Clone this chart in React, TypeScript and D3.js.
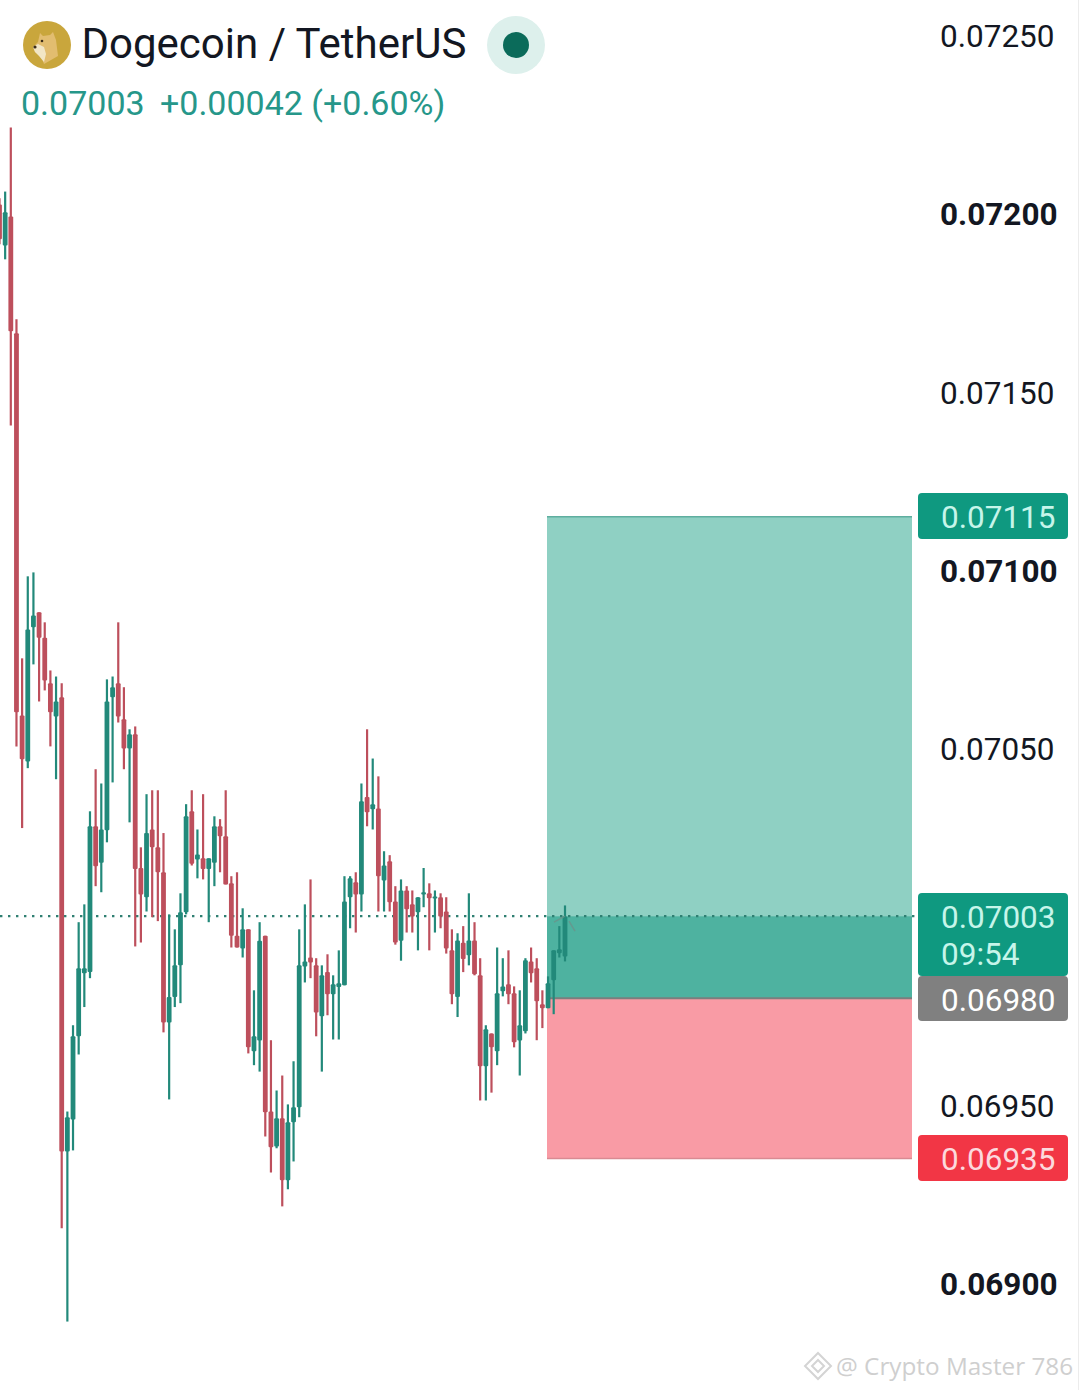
import React, { useEffect, useRef } from 'react';
import * as d3 from 'd3';

// prices are in 0.00001 USDT, so 7003 reads as 0.07003
const opens = [
  7202.6, 7191.1, 7199.2, 7166.5, 7059.3, 7046.4, 7084.0, 7088.2, 7081.1, 7068.3,
  7059.0, 7064.4, 6937.0, 6946.0, 6969.3, 6987.0, 6987.3, 7028.2, 7018.0, 7027.1,
  7064.4, 7068.3, 7058.2, 7050.0, 7054.0, 7016.5, 7008.3, 7027.3, 7022.3, 7015.3,
  6973.2, 6980.3, 6989.2, 7004.1, 7032.4, 7018.9, 7019.2, 7016.2, 7018.0, 7028.2,
  7025.4, 7012.2, 6997.5, 6993.9, 6999.3, 6965.1, 6968.1, 6997.5, 6948.2, 6938.4,
  6946.3, 6928.9, 6945.2, 6949.4, 6988.9, 6991.4, 6989.2, 6974.9, 6987.3, 6981.1,
  6983.1, 6983.6, 7008.3, 7012.5, 7009.1, 7036.4, 7033.0, 7033.2, 7013.0, 7018.4,
  7007.1, 6996.1, 7010.2, 7006.3, 7004.1, 7009.1, 7009.4, 7008.0, 7008.3, 7004.3,
  6993.4, 6980.3, 6995.5, 6992.0, 6996.2, 6986.4, 6960.9, 6970.1, 6965.1, 6981.9,
  6983.9, 6981.4, 6968.1, 6970.7, 6990.3, 6988.4, 6978.3, 6977.2, 6985.0, 6992.6,
  6991.7,
];
const highs = [
  7204.3, 7206.2, 7224.2, 7170.4, 7075.3, 7098.3, 7099.4, 7088.2, 7085.4, 7071.9,
  7070.2, 7068.3, 6948.2, 6972.4, 7001.3, 7006.3, 7032.4, 7044.2, 7040.2, 7069.4,
  7070.2, 7085.4, 7067.2, 7055.4, 7056.2, 7022.3, 7037.2, 7038.3, 7038.3, 7026.3,
  7003.5, 6999.3, 7009.4, 7034.4, 7038.3, 7027.3, 7037.2, 7019.2, 7031.0, 7030.2,
  7038.3, 7014.2, 7015.3, 7005.2, 6999.3, 6982.2, 7001.3, 6997.5, 6968.2, 6954.1,
  6958.3, 6950.2, 6962.3, 6999.3, 7006.3, 7013.3, 6991.2, 6989.2, 6992.3, 6986.4,
  6993.4, 7014.2, 7014.2, 7015.3, 7040.2, 7055.4, 7047.2, 7042.2, 7021.2, 7020.1,
  7011.4, 7013.3, 7011.4, 7010.2, 7008.3, 7016.5, 7012.2, 7010.2, 7009.4, 7008.3,
  6999.3, 6998.2, 7000.2, 7009.4, 7001.3, 6991.2, 6972.4, 6970.1, 6994.2, 6991.2,
  6993.4, 6983.3, 6982.2, 6991.2, 6994.2, 6991.2, 6982.2, 6986.1, 6993.4, 7000.2,
  7006.0,
];
const lows = [
  7191.4, 7187.2, 7140.6, 7050.6, 7027.7, 7044.5, 7073.6, 7063.2, 7066.3, 7050.6,
  7041.4, 6915.5, 6889.3, 6937.3, 6964.2, 6977.5, 6985.6, 7011.4, 7009.7, 7023.7,
  7040.5, 7057.3, 7044.2, 7029.3, 6994.5, 6995.6, 7004.3, 7002.7, 7001.6, 6970.4,
  6951.6, 6977.5, 6978.6, 7003.5, 7017.2, 7013.6, 7013.3, 7001.3, 7011.4, 7015.3,
  7011.9, 6994.2, 6994.2, 6991.4, 6964.5, 6961.2, 6959.4, 6941.2, 6931.1, 6937.9,
  6921.6, 6926.4, 6934.2, 6946.6, 6984.4, 6985.6, 6969.3, 6959.4, 6975.2, 6968.4,
  6968.4, 6983.6, 6999.6, 6998.4, 7004.3, 7028.2, 7027.3, 7004.3, 7004.3, 7004.3,
  6995.0, 6990.5, 6998.4, 6998.4, 6993.4, 7005.5, 6993.4, 6998.4, 6999.6, 6992.5,
  6978.3, 6974.7, 6987.3, 6989.2, 6986.4, 6951.3, 6951.3, 6953.5, 6961.2, 6980.5,
  6978.3, 6966.2, 6958.3, 6970.1, 6984.4, 6968.2, 6971.6, 6977.2, 6975.5, 6991.4,
  6990.3,
];
const closes = [
  7192.8, 7200.4, 7167.0, 7060.2, 7047.0, 7083.4, 7087.3, 7081.1, 7069.1, 7060.2,
  7063.2, 6937.0, 6946.6, 6969.3, 6988.4, 6988.4, 7028.2, 7017.0, 7027.3, 7063.2,
  7067.2, 7059.0, 7050.0, 7054.0, 7016.2, 7009.1, 7026.3, 7022.3, 7015.3, 6973.2,
  6980.3, 6989.2, 7004.1, 7031.0, 7017.7, 7020.3, 7016.2, 7019.2, 7028.2, 7025.4,
  7011.9, 6997.5, 6994.2, 6999.3, 6966.2, 6969.3, 6996.1, 6948.0, 6938.2, 6946.3,
  6928.9, 6945.2, 6949.4, 6989.2, 6990.3, 6990.0, 6976.0, 6986.4, 6981.1, 6983.9,
  6984.2, 7007.1, 7013.6, 7009.1, 7035.2, 7032.1, 7034.4, 7014.2, 7017.2, 7006.9,
  6995.6, 7010.2, 7004.9, 7002.9, 7008.3, 7009.7, 7008.0, 7008.5, 7002.9, 6993.9,
  6981.1, 6996.2, 6991.0, 6996.2, 6986.7, 6960.9, 6971.3, 6966.2, 6981.4, 6983.3,
  6981.1, 6967.6, 6972.4, 6990.6, 6987.0, 6979.1, 6977.2, 6984.2, 6993.4, 6993.7,
  7002.9,
];

const axisTicks = [7250, 7200, 7150, 7100, 7050, 6950, 6900];
const boldTicks = [7200, 7100, 6900];

const lastPrice = 7003;
const targetPrice = 7115;
const entryPrice = 6980;
const stopPrice = 6935;

const fmt = (v: number) => (v / 100000).toFixed(5);

const FONT = 'Roboto, sans-serif';
const UP = '#22897a';
const DOWN = '#bd4f5c';

const App: React.FC = () => {
  const ref = useRef<SVGSVGElement>(null);

  useEffect(() => {
    document.body.style.margin = '0';
    const svg = d3.select(ref.current);
    svg.selectAll('*').remove();

    const yScale = d3.scaleLinear().domain([7250, 6900]).range([35.4, 1283.4]);
    const xScale = d3.scaleLinear().domain([0, 100]).range([-0.5, 565]);
    const boxLeft = 547;
    const boxRight = 912;

    svg.append('rect').attr('width', 1080).attr('height', 1390).attr('fill', '#fff');
    svg.append('line').attr('x1', 1078.5).attr('x2', 1078.5).attr('y1', 0).attr('y2', 1390)
      .attr('stroke', '#ececec').attr('stroke-width', 1);

    // long position tool
    const zones = [
      { top: targetPrice, bottom: lastPrice, fill: '#8fd0c3' },
      { top: lastPrice, bottom: entryPrice, fill: '#4eb2a0' },
      { top: entryPrice, bottom: stopPrice, fill: '#f99ba5' },
    ];
    svg.selectAll('.zone').data(zones).enter().append('rect')
      .attr('class', 'zone')
      .attr('x', boxLeft)
      .attr('width', boxRight - boxLeft)
      .attr('y', d => yScale(d.top))
      .attr('height', d => yScale(d.bottom) - yScale(d.top))
      .attr('fill', d => d.fill);
    const edges = [
      { price: targetPrice, color: '#5fae9f', w: 1.5 },
      { price: entryPrice, color: '#7a7f7e', w: 2 },
      { price: stopPrice, color: '#d98a92', w: 1.5 },
    ];
    svg.selectAll('.edge').data(edges).enter().append('line')
      .attr('class', 'edge')
      .attr('x1', boxLeft).attr('x2', boxRight)
      .attr('y1', d => yScale(d.price)).attr('y2', d => yScale(d.price))
      .attr('stroke', d => d.color).attr('stroke-width', d => d.w);

    // last price dotted line
    svg.append('line')
      .attr('x1', 0).attr('x2', 915)
      .attr('y1', yScale(lastPrice)).attr('y2', yScale(lastPrice))
      .attr('stroke', '#2f7f72').attr('stroke-width', 2.2)
      .attr('stroke-dasharray', '2.4 5.6');

    // candles
    const candles = opens.map((o, i) => ({ i, o, h: highs[i], l: lows[i], c: closes[i] }));
    const g = svg.selectAll('.candle').data(candles).enter().append('g').attr('class', 'candle');
    g.append('line')
      .attr('x1', d => xScale(d.i)).attr('x2', d => xScale(d.i))
      .attr('y1', d => yScale(d.h)).attr('y2', d => yScale(d.l))
      .attr('stroke', d => (d.c >= d.o ? UP : DOWN))
      .attr('stroke-width', 2.2);
    g.append('rect')
      .attr('x', d => xScale(d.i) - 2.4)
      .attr('width', 4.8)
      .attr('y', d => yScale(Math.max(d.o, d.c)))
      .attr('height', d => Math.max(2, yScale(Math.min(d.o, d.c)) - yScale(Math.max(d.o, d.c))))
      .attr('rx', 1)
      .attr('fill', d => (d.c >= d.o ? UP : DOWN));

    // small faint marks round the last candle
    const lx = xScale(100);
    const ly = yScale(lastPrice);
    svg.append('path')
      .attr('d', `M${lx - 11},${ly + 6} L${lx},${ly} M${lx + 4},${ly + 5} L${lx + 10},${ly + 15}`)
      .attr('stroke', '#6f8f88').attr('stroke-width', 1.5).attr('fill', 'none').attr('opacity', 0.7);

    // price axis
    const axis = svg.append('g')
      .attr('transform', 'translate(940,1)')
      .call(d3.axisRight(yScale).tickValues(axisTicks).tickSize(0).tickPadding(0).tickFormat(d => fmt(+d)) as any);
    axis.select('.domain').remove();
    axis.selectAll('text')
      .attr('font-family', FONT)
      .attr('font-size', 31.5)
      .attr('fill', '#131722')
      .attr('font-weight', (d: any) => (boldTicks.includes(d) ? 700 : 400));

    // price badges
    const badges = [
      { y: 493, h: 46, fill: '#0f9980', rows: [fmt(targetPrice)], color: '#c6f5ea' },
      { y: 893, h: 83, fill: '#0f9980', rows: [fmt(lastPrice), '09:54'], color: '#c6f5ea' },
      { y: 976, h: 45, fill: '#808080', rows: [fmt(entryPrice)], color: '#ffffff' },
      { y: 1135, h: 46, fill: '#f23645', rows: [fmt(stopPrice)], color: '#fcd9dd' },
    ];
    badges.forEach(b => {
      svg.append('rect')
        .attr('x', 918).attr('y', b.y).attr('width', 150).attr('height', b.h)
        .attr('rx', 4).attr('fill', b.fill);
      b.rows.forEach((t, k) => {
        svg.append('text')
          .attr('x', 941).attr('y', b.y + 35 + k * 37)
          .attr('font-family', FONT).attr('font-size', 31.5)
          .attr('fill', b.color).text(t);
      });
    });

    // header
    const head = svg.append('g');
    head.append('circle').attr('cx', 47).attr('cy', 45).attr('r', 24).attr('fill', '#c9a63c');
    head.append('path')
      .attr('d', 'M40,33 L43,36 L50,35 L53,32 L56,40 L58,56 L44,64 L41,56 L35,52 L33,47 L38,42 Z')
      .attr('fill', '#e2bd70');
    head.append('path')
      .attr('d', 'M33,47 L38,44 L44,47 L46,54 L44,62 L39,56 L35,52 Z')
      .attr('fill', '#f2e6c6');
    head.append('circle').attr('cx', 35).attr('cy', 47).attr('r', 1.6).attr('fill', '#3c2c18');
    head.append('circle').attr('cx', 42).attr('cy', 41).attr('r', 1.3).attr('fill', '#3c2c18');

    head.append('text')
      .attr('x', 81.5).attr('y', 58)
      .attr('font-family', FONT).attr('font-size', 42).attr('fill', '#131722')
      .text('Dogecoin / TetherUS');
    head.append('circle').attr('cx', 516).attr('cy', 45).attr('r', 29).attr('fill', '#ddf0ec');
    head.append('circle').attr('cx', 516).attr('cy', 45).attr('r', 13).attr('fill', '#0b6b5a');

    head.append('text')
      .attr('x', 21).attr('y', 115)
      .attr('font-family', FONT).attr('font-size', 34).attr('fill', '#26978a')
      .text('0.07003');
    head.append('text')
      .attr('x', 160).attr('y', 115)
      .attr('font-family', FONT).attr('font-size', 34).attr('fill', '#26978a')
      .text('+0.00042 (+0.60%)');

    // watermark
    const mark = svg.append('g').attr('fill', 'none').attr('stroke', '#d4d4d4').attr('stroke-width', 2);
    mark.append('path').attr('d', 'M818,1353 L831,1366 L818,1379 L805,1366 Z');
    mark.append('path').attr('d', 'M818,1360 L824,1366 L818,1372 L812,1366 Z');
    svg.append('text')
      .attr('x', 836).attr('y', 1375)
      .attr('font-family', '"Open Sans", sans-serif').attr('font-size', 24.3)
      .attr('fill', '#cfcfcf')
      .text('@ Crypto Master 786');
  }, []);

  return <svg ref={ref} width={1080} height={1390} style={{ display: 'block' }} />;
};

export default App;
